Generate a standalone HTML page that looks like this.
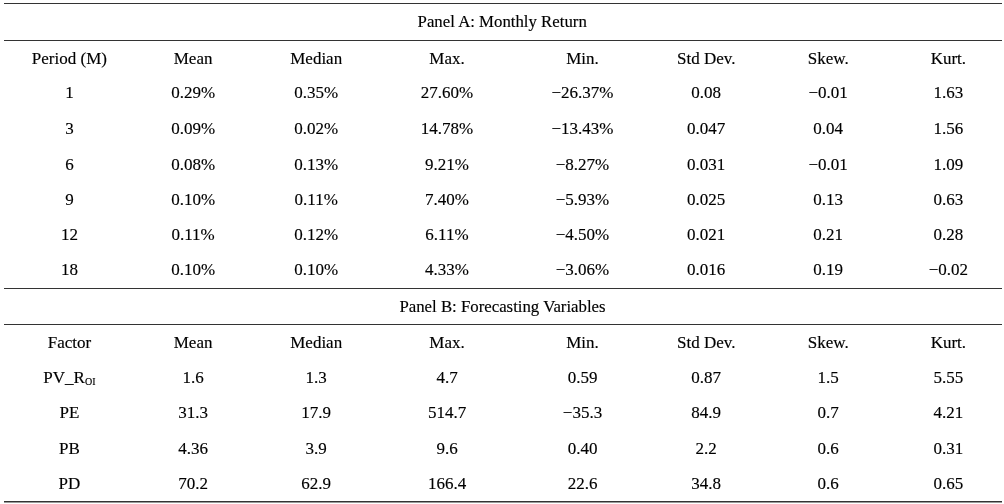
<!DOCTYPE html>
<html><head><meta charset="utf-8"><style>
html,body{margin:0;padding:0;background:#fff;}
body{width:1004px;height:504px;position:relative;overflow:hidden;}
.c{position:absolute;text-align:center;white-space:nowrap;font-family:"Liberation Serif","Times New Roman",serif;font-size:17px;line-height:20px;color:#000;-webkit-text-stroke:0.15px #000;}
.c sub{font-size:10px;vertical-align:baseline;position:relative;top:1.5px;}
.t{font-size:16.8px;}
.ln{position:absolute;left:4px;width:998px;height:1px;background:#333;}
</style></head><body>
<div class="c t" style="left:302.20px;top:12.00px;width:400px">Panel A: Monthly Return</div>
<div class="c" style="left:-10.60px;top:49.00px;width:160px">Period (M)</div>
<div class="c" style="left:113.10px;top:49.00px;width:160px">Mean</div>
<div class="c" style="left:236.20px;top:49.00px;width:160px">Median</div>
<div class="c" style="left:367.00px;top:49.00px;width:160px">Max.</div>
<div class="c" style="left:502.50px;top:49.00px;width:160px">Min.</div>
<div class="c" style="left:626.20px;top:49.00px;width:160px">Std Dev.</div>
<div class="c" style="left:748.20px;top:49.00px;width:160px">Skew.</div>
<div class="c" style="left:868.40px;top:49.00px;width:160px">Kurt.</div>
<div class="c" style="left:-10.60px;top:83.00px;width:160px">1</div>
<div class="c" style="left:113.10px;top:83.00px;width:160px">0.29%</div>
<div class="c" style="left:236.20px;top:83.00px;width:160px">0.35%</div>
<div class="c" style="left:367.00px;top:83.00px;width:160px">27.60%</div>
<div class="c" style="left:502.50px;top:83.00px;width:160px">−26.37%</div>
<div class="c" style="left:626.20px;top:83.00px;width:160px">0.08</div>
<div class="c" style="left:748.20px;top:83.00px;width:160px">−0.01</div>
<div class="c" style="left:868.40px;top:83.00px;width:160px">1.63</div>
<div class="c" style="left:-10.60px;top:119.00px;width:160px">3</div>
<div class="c" style="left:113.10px;top:119.00px;width:160px">0.09%</div>
<div class="c" style="left:236.20px;top:119.00px;width:160px">0.02%</div>
<div class="c" style="left:367.00px;top:119.00px;width:160px">14.78%</div>
<div class="c" style="left:502.50px;top:119.00px;width:160px">−13.43%</div>
<div class="c" style="left:626.20px;top:119.00px;width:160px">0.047</div>
<div class="c" style="left:748.20px;top:119.00px;width:160px">0.04</div>
<div class="c" style="left:868.40px;top:119.00px;width:160px">1.56</div>
<div class="c" style="left:-10.60px;top:155.00px;width:160px">6</div>
<div class="c" style="left:113.10px;top:155.00px;width:160px">0.08%</div>
<div class="c" style="left:236.20px;top:155.00px;width:160px">0.13%</div>
<div class="c" style="left:367.00px;top:155.00px;width:160px">9.21%</div>
<div class="c" style="left:502.50px;top:155.00px;width:160px">−8.27%</div>
<div class="c" style="left:626.20px;top:155.00px;width:160px">0.031</div>
<div class="c" style="left:748.20px;top:155.00px;width:160px">−0.01</div>
<div class="c" style="left:868.40px;top:155.00px;width:160px">1.09</div>
<div class="c" style="left:-10.60px;top:190.00px;width:160px">9</div>
<div class="c" style="left:113.10px;top:190.00px;width:160px">0.10%</div>
<div class="c" style="left:236.20px;top:190.00px;width:160px">0.11%</div>
<div class="c" style="left:367.00px;top:190.00px;width:160px">7.40%</div>
<div class="c" style="left:502.50px;top:190.00px;width:160px">−5.93%</div>
<div class="c" style="left:626.20px;top:190.00px;width:160px">0.025</div>
<div class="c" style="left:748.20px;top:190.00px;width:160px">0.13</div>
<div class="c" style="left:868.40px;top:190.00px;width:160px">0.63</div>
<div class="c" style="left:-10.60px;top:225.00px;width:160px">12</div>
<div class="c" style="left:113.10px;top:225.00px;width:160px">0.11%</div>
<div class="c" style="left:236.20px;top:225.00px;width:160px">0.12%</div>
<div class="c" style="left:367.00px;top:225.00px;width:160px">6.11%</div>
<div class="c" style="left:502.50px;top:225.00px;width:160px">−4.50%</div>
<div class="c" style="left:626.20px;top:225.00px;width:160px">0.021</div>
<div class="c" style="left:748.20px;top:225.00px;width:160px">0.21</div>
<div class="c" style="left:868.40px;top:225.00px;width:160px">0.28</div>
<div class="c" style="left:-10.60px;top:260.00px;width:160px">18</div>
<div class="c" style="left:113.10px;top:260.00px;width:160px">0.10%</div>
<div class="c" style="left:236.20px;top:260.00px;width:160px">0.10%</div>
<div class="c" style="left:367.00px;top:260.00px;width:160px">4.33%</div>
<div class="c" style="left:502.50px;top:260.00px;width:160px">−3.06%</div>
<div class="c" style="left:626.20px;top:260.00px;width:160px">0.016</div>
<div class="c" style="left:748.20px;top:260.00px;width:160px">0.19</div>
<div class="c" style="left:868.40px;top:260.00px;width:160px">−0.02</div>
<div class="c t" style="left:302.50px;top:296.60px;width:400px">Panel B: Forecasting Variables</div>
<div class="c" style="left:-10.60px;top:333.00px;width:160px">Factor</div>
<div class="c" style="left:113.10px;top:333.00px;width:160px">Mean</div>
<div class="c" style="left:236.20px;top:333.00px;width:160px">Median</div>
<div class="c" style="left:367.00px;top:333.00px;width:160px">Max.</div>
<div class="c" style="left:502.50px;top:333.00px;width:160px">Min.</div>
<div class="c" style="left:626.20px;top:333.00px;width:160px">Std Dev.</div>
<div class="c" style="left:748.20px;top:333.00px;width:160px">Skew.</div>
<div class="c" style="left:868.40px;top:333.00px;width:160px">Kurt.</div>
<div class="c" style="left:-10.60px;top:368.00px;width:160px">PV_R<sub>OI</sub></div>
<div class="c" style="left:113.10px;top:368.00px;width:160px">1.6</div>
<div class="c" style="left:236.20px;top:368.00px;width:160px">1.3</div>
<div class="c" style="left:367.00px;top:368.00px;width:160px">4.7</div>
<div class="c" style="left:502.50px;top:368.00px;width:160px">0.59</div>
<div class="c" style="left:626.20px;top:368.00px;width:160px">0.87</div>
<div class="c" style="left:748.20px;top:368.00px;width:160px">1.5</div>
<div class="c" style="left:868.40px;top:368.00px;width:160px">5.55</div>
<div class="c" style="left:-10.60px;top:403.00px;width:160px">PE</div>
<div class="c" style="left:113.10px;top:403.00px;width:160px">31.3</div>
<div class="c" style="left:236.20px;top:403.00px;width:160px">17.9</div>
<div class="c" style="left:367.00px;top:403.00px;width:160px">514.7</div>
<div class="c" style="left:502.50px;top:403.00px;width:160px">−35.3</div>
<div class="c" style="left:626.20px;top:403.00px;width:160px">84.9</div>
<div class="c" style="left:748.20px;top:403.00px;width:160px">0.7</div>
<div class="c" style="left:868.40px;top:403.00px;width:160px">4.21</div>
<div class="c" style="left:-10.60px;top:439.00px;width:160px">PB</div>
<div class="c" style="left:113.10px;top:439.00px;width:160px">4.36</div>
<div class="c" style="left:236.20px;top:439.00px;width:160px">3.9</div>
<div class="c" style="left:367.00px;top:439.00px;width:160px">9.6</div>
<div class="c" style="left:502.50px;top:439.00px;width:160px">0.40</div>
<div class="c" style="left:626.20px;top:439.00px;width:160px">2.2</div>
<div class="c" style="left:748.20px;top:439.00px;width:160px">0.6</div>
<div class="c" style="left:868.40px;top:439.00px;width:160px">0.31</div>
<div class="c" style="left:-10.60px;top:474.00px;width:160px">PD</div>
<div class="c" style="left:113.10px;top:474.00px;width:160px">70.2</div>
<div class="c" style="left:236.20px;top:474.00px;width:160px">62.9</div>
<div class="c" style="left:367.00px;top:474.00px;width:160px">166.4</div>
<div class="c" style="left:502.50px;top:474.00px;width:160px">22.6</div>
<div class="c" style="left:626.20px;top:474.00px;width:160px">34.8</div>
<div class="c" style="left:748.20px;top:474.00px;width:160px">0.6</div>
<div class="c" style="left:868.40px;top:474.00px;width:160px">0.65</div>
<div class="ln" style="top:3px"></div>
<div class="ln" style="top:40px"></div>
<div class="ln" style="top:288px"></div>
<div class="ln" style="top:324px"></div>
<div class="ln" style="top:501px"></div>
<div class="ln" style="top:502px;background:#9a9a9a"></div>
</body></html>
